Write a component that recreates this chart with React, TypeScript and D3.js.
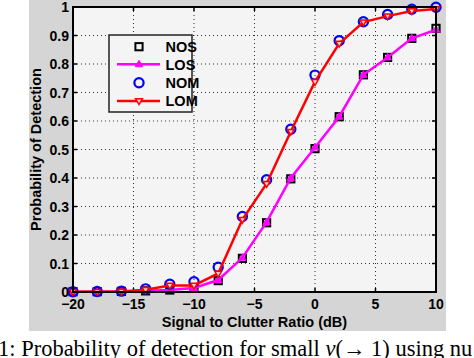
import React from "react";
import * as d3 from "d3";

const snr = [-20, -18, -16, -14, -12, -10, -8, -6, -4, -2, 0, 2, 4, 6, 8, 10];
const nos = [0.001, 0.001, 0.002, 0.004, 0.007, 0.015, 0.04, 0.118, 0.243, 0.397, 0.503, 0.615, 0.762, 0.823, 0.89, 0.925];
const los = [0.001, 0.001, 0.002, 0.004, 0.007, 0.014, 0.042, 0.12, 0.245, 0.4, 0.507, 0.615, 0.762, 0.823, 0.89, 0.92];
const nom = [0.001, 0.002, 0.003, 0.011, 0.027, 0.036, 0.087, 0.265, 0.394, 0.571, 0.761, 0.882, 0.948, 0.974, 0.992, 0.999];
const lom = [0.001, 0.001, 0.002, 0.008, 0.023, 0.023, 0.065, 0.254, 0.38, 0.563, 0.738, 0.872, 0.947, 0.968, 0.986, 0.993];
const xTicks = [-20, -15, -10, -5, 0, 5, 10];
const yTicks = [0, 0.1, 0.2, 0.3, 0.4, 0.5, 0.6, 0.7, 0.8, 0.9, 1];
const legendLabels = ["NOS", "LOS", "NOM", "LOM"];

const W = 474, H = 358;
const L = 73, R = 436, T = 7, B = 292;
const FONT = "'Liberation Sans', Arial, Helvetica, sans-serif";

export default function App() {
  const x = d3.scaleLinear().domain([-20, 10]).range([L, R]);
  const y = d3.scaleLinear().domain([0, 1]).range([B, T]);
  const line = (vals: number[]) =>
    d3.line<number>().x((_, i) => x(snr[i])).y((d) => y(d))(vals) || "";

  const sq = 3.6;
  const tri = (cx: number, cy: number, s: number, up: boolean) => {
    const h = s * 1.0;
    return up
      ? `M${cx},${cy - h} L${cx + s * 0.95},${cy + h * 0.6} L${cx - s * 0.95},${cy + h * 0.6} Z`
      : `M${cx},${cy + h} L${cx + s * 0.95},${cy - h * 0.6} L${cx - s * 0.95},${cy - h * 0.6} Z`;
  };

  const legX = 109, legY = 35, legW = 83, legH = 77;
  const rows = [46.7, 64.3, 82.7, 101];
  const mx = 139;

  return (
    <svg width={W} height={H} style={{ position: "absolute", left: 0, top: 0, background: "#fff" }}>
      <rect x={29} y={0} width={417} height={331} fill="#d5d5d5" />
      <rect x={L} y={T} width={R - L} height={B - T} fill="#f4f4f4" />
      {/* grid */}
      {xTicks.slice(1, -1).map((t) => (
        <line key={"gx" + t} x1={x(t)} x2={x(t)} y1={T} y2={B} stroke="#333" strokeWidth={1} strokeDasharray="1,3" />
      ))}
      {yTicks.slice(1, -1).map((t) => (
        <line key={"gy" + t} x1={L} x2={R} y1={y(t)} y2={y(t)} stroke="#333" strokeWidth={1} strokeDasharray="1,3" />
      ))}
      {/* ticks inward */}
      {xTicks.map((t) => (
        <g key={"tx" + t}>
          <line x1={x(t)} x2={x(t)} y1={B} y2={B - 4} stroke="#000" strokeWidth={1.5} />
          <line x1={x(t)} x2={x(t)} y1={T} y2={T + 4} stroke="#000" strokeWidth={1.5} />
        </g>
      ))}
      {yTicks.map((t) => (
        <g key={"ty" + t}>
          <line x1={L} x2={L + 4} y1={y(t)} y2={y(t)} stroke="#000" strokeWidth={1.5} />
          <line x1={R} x2={R - 4} y1={y(t)} y2={y(t)} stroke="#000" strokeWidth={1.5} />
        </g>
      ))}
      {/* series */}
      {nos.map((v, i) => (
        <rect key={"nos" + i} x={x(snr[i]) - sq} y={y(v) - sq} width={sq * 2} height={sq * 2} fill="none" stroke="#000" strokeWidth={2} />
      ))}
      <path d={line(los)} fill="none" stroke="#ff00ff" strokeWidth={2.5} />
      {los.map((v, i) => (
        <path key={"los" + i} d={tri(x(snr[i]), y(v), 4, true)} fill="#ff00ff" stroke="#ff00ff" strokeWidth={1} />
      ))}
      {nom.map((v, i) => (
        <circle key={"nom" + i} cx={x(snr[i])} cy={y(v)} r={4.6} fill="none" stroke="#0000ff" strokeWidth={2.2} />
      ))}
      <path d={line(lom)} fill="none" stroke="#ff0000" strokeWidth={2.5} />
      {lom.map((v, i) => (
        <path key={"lom" + i} d={tri(x(snr[i]), y(v), 3.6, false)} fill="#ffd0d0" stroke="#ff0000" strokeWidth={1.5} />
      ))}
      {/* box */}
      <rect x={L} y={T} width={R - L} height={B - T} fill="none" stroke="#000" strokeWidth={2} />
      {/* legend */}
      <rect x={legX} y={legY} width={legW} height={legH} fill="#f4f4f4" stroke="#222" strokeWidth={1.5} />
      <rect x={mx - sq} y={rows[0] - sq} width={sq * 2} height={sq * 2} fill="none" stroke="#000" strokeWidth={2} />
      <line x1={117} x2={160} y1={rows[1]} y2={rows[1]} stroke="#ff00ff" strokeWidth={2.5} />
      <path d={tri(mx, rows[1], 4, true)} fill="#ff00ff" stroke="#ff00ff" strokeWidth={1} />
      <circle cx={mx} cy={rows[2]} r={4.6} fill="none" stroke="#0000ff" strokeWidth={2.2} />
      <line x1={117} x2={160} y1={rows[3]} y2={rows[3]} stroke="#ff0000" strokeWidth={2.5} />
      <path d={tri(mx, rows[3], 3.6, false)} fill="#ffd0d0" stroke="#ff0000" strokeWidth={1.5} />
      {legendLabels.map((lab, i) => (
        <text key={lab} x={165.5} y={rows[i]} dy="0.36em" fontFamily={FONT} fontWeight="bold" fontSize={14.5} fill="#000">
          {lab}
        </text>
      ))}
      {/* tick labels */}
      {yTicks.map((t) => (
        <text key={"yl" + t} x={69} y={y(t)} dy="0.36em" textAnchor="end" fontFamily={FONT} fontWeight="bold" fontSize={14} fill="#000">
          {t === 0 ? "0" : t === 1 ? "1" : d3.format(".1f")(t)}
        </text>
      ))}
      {xTicks.map((t) => (
        <text key={"xl" + t} x={x(t)} y={308.5} textAnchor="middle" fontFamily={FONT} fontWeight="bold" fontSize={14} fill="#000">
          {t < 0 ? "\u2212" + Math.abs(t) : String(t)}
        </text>
      ))}
      <text x={(L + R) / 2} y={326.5} textAnchor="middle" fontFamily={FONT} fontWeight="bold" fontSize={14.5} fill="#000">
        Signal to Clutter Ratio (dB)
      </text>
      <text transform={`translate(41,${(T + B) / 2}) rotate(-90)`} textAnchor="middle" fontFamily={FONT} fontWeight="bold" fontSize={14.5} fill="#000">
        Probability of Detection
      </text>
      {/* caption */}
      <text x={-2} y={356} fontFamily="'Liberation Serif', 'Times New Roman', serif" fontSize={22.5} fill="#000">
        1: Probability of detection for small <tspan fontStyle="italic">ν</tspan>(→ 1) using nu
      </text>
    </svg>
  );
}
